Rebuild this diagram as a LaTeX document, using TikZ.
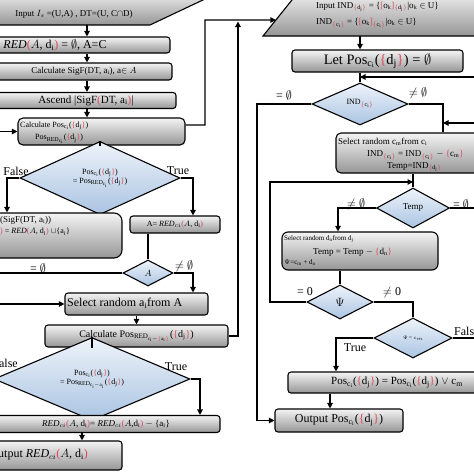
\documentclass[tikz,border=0pt]{standalone}
\usepackage{amsmath,amssymb}
\usepackage{fontspec}
\setmainfont{Liberation Serif}
\setmathrm{Liberation Serif}
\usetikzlibrary{arrows.meta,shapes.geometric,calc}
\definecolor{vermelho}{RGB}{220,72,86}
\definecolor{cinzaclaro}{RGB}{244,244,244}
\definecolor{cinzaescuro}{RGB}{150,150,150}
\definecolor{azulclaro}{RGB}{238,243,250}
\definecolor{azulmedio}{RGB}{170,196,226}
\newcommand{\ver}[1]{\textcolor{vermelho}{#1}}
\newcommand{\chv}[1]{\ver{\{}#1\ver{\}}}
\newcommand{\onze}{\fontsize{11}{13}\selectfont}
\tikzset{
  caixa/.style={rectangle,rounded corners=3pt,draw=black,line width=1.1pt,
    top color=cinzaclaro,bottom color=cinzaescuro,inner sep=1pt,font=\small},
  entrada/.style={draw=black,line width=1.1pt,top color=cinzaclaro,bottom color=cinzaescuro},
  losango/.style={diamond,draw=black,line width=1.1pt,top color=azulclaro,
    bottom color=azulmedio,inner sep=0pt,align=center,font=\footnotesize},
  linha/.style={line width=1.1pt},
  seta/.style={linha,-{Triangle[length=5.5pt,width=5.5pt]}},
  rotulo/.style={inner sep=1pt,font=\large},
  texto/.style={inner sep=0pt,anchor=west}
}

\begin{document}
\begin{tikzpicture}[x=1pt,y=-1pt]
\useasboundingbox (0,0) rectangle (474,474);
\clip (0,0) rectangle (474,474);
% coluna esquerda
\path[entrada] (-10,-10) -- (224,-10) -- (150,25) -- (-10,25) -- cycle;
\node[inner sep=0pt,font=\small] (tinL) at (74,14) {Input $I_s$ =(U,A) , DT=(U, C$\cap$D)};
\coordinate (sinL) at (87,25);
\node[caixa,minimum width=230pt,minimum height=16pt,font=\large] (b1) at (55,45)
  {$\mathit{RED}$\ver{(}$A$, d$_\mathrm{i}$\ver{)} = $\emptyset$, A=C};
\node[caixa,minimum width=176pt,minimum height=17pt] (b2) at (84,71.5)
  {Calculate SigF(DT, a$_\mathrm{i}$), a$\in$ $A$};
\node[caixa,minimum width=180pt,minimum height=16pt,font=\onze] (b3) at (86,100.5)
  {Ascend |SigF\ver{(}DT, a$_\mathrm{i}$\ver{)}|};
\node[caixa,rounded corners=5pt,minimum width=167pt,minimum height=27pt] (b4) at (101.5,131.5) {};
\node[texto,font=\footnotesize] (t4a) at (20,126) {Calculate Pos$_{\mathrm{c_i}}$(\chv{d$_\mathrm{j}$})};
\node[texto,font=\footnotesize] (t4b) at (35,139) {Pos$_{\mathrm{RED}_{\mathrm{c_i}}}$(\chv{d$_\mathrm{j}$})};
\node[losango,minimum width=160pt,minimum height=50pt] (d1) at (100,178)
  {Pos$_{\mathrm{c_i}}$(\chv{d$_\mathrm{j}$})\\ = Pos$_{\mathrm{RED}_{\mathrm{c_i}}}$(\chv{d$_\mathrm{j}$})};
\node[caixa,rounded corners=8pt,minimum width=140pt,minimum height=45pt] (b5) at (52,235.5) {};
\node[texto,font=\small] (t5a) at (0,220) {(SigF(DT, a$_\mathrm{i}$))};
\node[texto,font=\footnotesize] (t5b) at (0,232)
  {\ver{)} = $\mathit{RED}$\ver{(}$A$, d$_\mathrm{i}$\ver{)} $\cup$\{a$_\mathrm{i}$\}};
\node[caixa,minimum width=90pt,minimum height=17pt,font=\footnotesize] (b6) at (175,224.5)
  {A= $\mathit{RED}_{ci}$\ver{(}$A$, d$_\mathrm{i}$\ver{)}};
\node[losango,minimum width=50pt,minimum height=26pt,font=\small] (dA) at (148,273) {$A$};
\node[caixa,minimum width=143pt,minimum height=22pt] (b7) at (136.5,304) {};
\node[texto,font=\large] (t7) at (67,303) {Select random a$_\mathrm{i}$from A};
\node[caixa,minimum width=183pt,minimum height=22pt,font=\normalsize] (b8) at (136.5,336)
  {Calculate Pos$_{\mathrm{RED}_{\mathrm{c_i}-\ver{\{}\mathrm{a_i}\ver{\}}}}$(\chv{d$_\mathrm{j}$})};
\node[losango,minimum width=196pt,minimum height=57pt] (d2) at (92,379)
  {Pos$_{\mathrm{c_i}}$(\chv{d$_\mathrm{j}$})\\ = Pos$_{\mathrm{RED}_{\mathrm{c_i}-\mathrm{a_i}}}$(\chv{d$_\mathrm{j}$})};
\node[caixa,minimum width=228pt,minimum height=17pt,font=\small] (b9) at (106,424)
  {$\mathit{RED}_{ci}$\ver{(}$A$, d$_\mathrm{i}$\ver{)}= $\mathit{RED}_{ci}$\ver{(}$A$,d$_\mathrm{i}$\ver{)} $-$ \{a$_\mathrm{i}$\}};
\node[caixa,minimum width=140pt,minimum height=29pt] (b10) at (52,455.5) {};
\node[texto,anchor=east,font=\large] (t10) at (88,455)
  {Output $\mathit{RED}_{ci}$\ver{(}$A$, d$_\mathrm{i}$\ver{)}};
% coluna direita
\path[entrada] (300,-10) -- (490,-10) -- (490,36) -- (263,36) -- cycle;
\node[texto,font=\small] (tinR1) at (316,7)
  {Input IND$_{\chv{\mathrm{d_j}}}$ = \{\ver{[}o$_\mathrm{k}$\ver{]}$_{\chv{\mathrm{d_j}}}$|o$_\mathrm{k}$ $\in$\ U\}};
\node[texto,font=\small] (tinR2) at (316,23)
  {IND$_{\chv{\mathrm{c_i}}}$ = \{\ver{[}o$_\mathrm{k}$\ver{]}$_{\chv{\mathrm{c_i}}}$|o$_\mathrm{k}$ $\in$\ U\}};
\coordinate (sinR) at (360,36);
\coordinate (einR) at ($(263,36)!16/36!(292,0)$);
\node[caixa,minimum width=171pt,minimum height=22pt,font=\Large] (b11) at (377.5,61)
  {Let Pos$_{\mathrm{c_i}}$(\chv{d$_\mathrm{j}$}) = $\emptyset$};
\node[losango,minimum width=96pt,minimum height=42pt,font=\footnotesize] (dIND) at (360,104)
  {IND$_{\chv{\mathrm{c_i}}}$};
\node[caixa,rounded corners=5pt,minimum width=150pt,minimum height=40pt] (b12) at (411,153) {};
\node[texto,font=\small] (t12a) at (338,142) {Select random c$_\mathrm{m}$from c$_\mathrm{i}$};
\node[texto,font=\small] (t12b) at (367,155)
  {IND$_{\chv{\mathrm{c_i}}}$ = IND$_{\chv{\mathrm{c_i}}}$ $-$ \chv{c$_\mathrm{m}$}};
\node[texto,font=\small] (t12c) at (387,167) {Temp=IND$_{\chv{\mathrm{d_j}}}$};
\node[losango,minimum width=73pt,minimum height=40pt,font=\small] (dTemp) at (413,208) {Temp};
\node[caixa,rounded corners=6pt,minimum width=156pt,minimum height=38pt] (b13) at (360,251) {};
\node[texto,font=\scriptsize] (t13a) at (284,239) {Select random d$_\mathrm{n}$from d$_\mathrm{j}$};
\node[texto,font=\small] (t13b) at (313,252) {Temp = Temp $-$ \chv{d$_\mathrm{n}$}};
\node[texto,font=\scriptsize] (t13c) at (284,263) {$\Psi$=c$_\mathrm{m}$ + d$_\mathrm{n}$};
\node[losango,minimum width=66pt,minimum height=34pt,font=\large] (dPsi) at (340,302) {$\Psi$};
\node[losango,minimum width=78pt,minimum height=40pt,font=\tiny] (dPc) at (413,338) {$\Psi$ = $c_m$};
\node[caixa,minimum width=218pt,minimum height=21pt,font=\onze] (b14) at (397,382.5)
  {Pos$_{\mathrm{c_i}}$(\chv{d$_\mathrm{j}$}) = Pos$_{\mathrm{c_i}}$(\chv{d$_\mathrm{j}$}) $\vee$ c$_\mathrm{m}$};
\node[caixa,minimum width=128pt,minimum height=23pt,font=\large] (b15) at (339,420.5)
  {Output Pos$_{\mathrm{c_i}}$(\chv{d$_\mathrm{j}$})};
% pontos auxiliares
\coordinate (e4) at (-10,131.5);
\coordinate (e7) at (-10,304);
\coordinate (xF1) at (7,0);
\coordinate (xT1) at (193,0);
\coordinate (xT2) at (200,0);
\coordinate (xO) at (82,0);
\coordinate (jTop) at (205,20);
\coordinate (topo) at (238,21.5);
\coordinate (jIND) at (360,77);
\coordinate (jF) at (443,123);
\coordinate (jTemp) at (413,182);
\coordinate (xE) at (257,0);
\coordinate (xG) at (270,0);
\coordinate (xH) at (338,0);
\coordinate (xI) at (336,0);
\coordinate (xJ) at (330,0);
\coordinate (xD) at (495,0);
\coordinate (xD2) at (485,0);
% ligacoes esquerda
\draw[seta] (sinL) -- (sinL |- b1.north);
\draw[seta] (b1.south -| sinL) -- (b2.north -| sinL);
\draw[seta] (b2.south -| sinL) -- (b3.north -| sinL);
\draw[seta] (b3.south -| sinL) -- (b4.north -| sinL);
\draw[seta] (e4) -- (b4.west);
\draw[linha] (b4.south -| d1.north) -- (d1.north);
\draw[seta] (d1.west) -| (xF1 |- b5.north);
\draw[seta] (d1.east) -| (xT1 |- b6.north);
\draw[linha] (b6.south -| dA.north) -- (dA.north);
\draw[linha] (dA.west) -- (dA.west -| e4);
\draw[seta] (dA.east) -| (xT1 |- b7.north);
\draw[seta] (e7) -- (b7.west);
\draw[seta] (b7.south) -- (b8.north);
\draw[linha] (b8.south -| d2.north) -- (d2.north);
\draw[seta] (d2.east) -| (xT2 |- b9.north);
\draw[seta] (b9.south -| xO) -- (b10.north -| xO);
\draw[seta] ([yshift=6.5pt]b4.east) -| (jTop) -- (einR);
\draw[seta] (b8.east) -| (topo);
% ligacoes direita
\draw[seta] (sinR) -- (sinR |- b11.north);
\draw[linha] (b11.south -| dIND.north) -- (dIND.north);
\draw[seta] (dPc.east) -| (xD |- jIND) -- (jIND);
\draw[seta] (dIND.west) -| (xE |- b15.west) -- (b15.west);
\draw[linha] (dIND.east) -| (b12.north -| jF);
\draw[seta] (dTemp.east) -| (xD2 |- jF) -- (jF);
\draw[linha] (b12.south -| dTemp.north) -- (dTemp.north);
\draw[seta] (dPsi.west) -| (xG |- jTemp) -- (jTemp);
\draw[seta] (dTemp.west) -| (xH |- b13.north);
\draw[linha] (b13.south -| dPsi.north) -- (dPsi.north);
\draw[linha] (dPsi.east) -| (dPc.north);
\draw[seta] (dPc.west) -| (xI |- b14.north);
\draw[seta] (b14.south -| xJ) -- (b15.north -| xJ);
% rotulos
\node[rotulo] (lF1) at (16,171) {False};
\node[rotulo] (lT1) at (178,171) {True};
\node[rotulo] (lA1) at (38,268) {= $\emptyset$};
\node[rotulo] (lA2) at (184,266) {$\neq$ $\emptyset$};
\node[rotulo,anchor=east] (lF2) at (19,363) {False};
\node[rotulo] (lT2) at (176,367) {True};
\node[rotulo] (lI1) at (284,95) {= $\emptyset$};
\node[rotulo] (lI2) at (418,93) {$\neq$ $\emptyset$};
\node[rotulo] (lTe1) at (356,204) {$\neq$ $\emptyset$};
\node[rotulo,anchor=west] (lTe2) at (452,204) {= $\emptyset$};
\node[rotulo] (lP1) at (305,292) {= 0};
\node[rotulo] (lP2) at (392,292) {$\neq$ 0};
\node[rotulo] (lC1) at (355,348) {True};
\node[rotulo,anchor=west] (lC2) at (453,331) {False};
\end{tikzpicture}
\end{document}
